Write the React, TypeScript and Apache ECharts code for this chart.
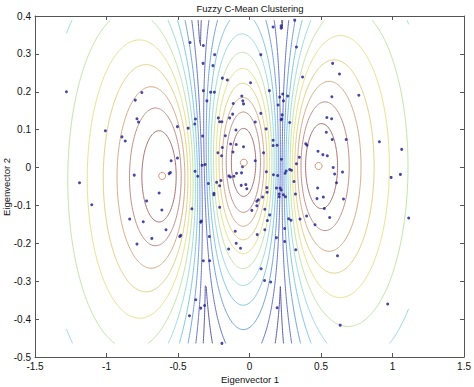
import React, { useEffect, useRef } from "react";
import * as echarts from "echarts";

// Scatter samples (Eigenvector 1, Eigenvector 2)
const dataPoints: [number, number][] = [
  [-1.28, 0.2], [-0.753, 0.198], [-0.799, 0.178], [-0.787, 0.129], [-0.776, 0.12],
  [-1.008, 0.097], [-0.892, 0.081], [-0.869, 0.07], [-0.548, 0.018], [-0.806, -0.02],
  [-0.562, -0.016], [-0.553, -0.013], [-1.189, -0.04], [-0.504, 0.025], [-0.632, -0.067],
  [-0.504, 0.108], [-0.429, 0.104], [-0.72, -0.088], [-1.103, -0.098], [-0.613, -0.112],
  [-0.838, -0.136], [-0.743, -0.143], [-0.584, -0.164], [-0.683, -0.187], [-0.787, -0.202],
  [-0.488, -0.182], [-0.481, -0.179], [-0.403, -0.109], [-0.341, -0.144], [-0.337, -0.141],
  [-0.281, -0.182], [-0.323, -0.246], [-0.279, -0.246], [-0.376, -0.349], [-0.341, -0.371],
  [-0.314, -0.364], [-0.42, -0.391], [-0.193, -0.464], [-0.249, -0.068], [-0.249, -0.072],
  [-0.209, -0.105], [-0.1, -0.168], [-0.093, -0.2], [-0.146, -0.215], [-0.063, -0.213],
  [-0.416, 0.33], [-0.323, 0.322], [-0.244, 0.298], [-0.325, 0.275], [-0.256, 0.269],
  [-0.19, 0.236], [-0.155, 0.231], [0.007, 0.224], [-0.323, 0.203], [-0.272, 0.199],
  [-0.246, 0.199], [-0.054, 0.189], [-0.298, 0.176], [-0.047, 0.176], [-0.042, 0.168],
  [-0.114, 0.169], [-0.118, 0.141], [-0.218, 0.131], [-0.139, 0.131], [-0.209, 0.121],
  [-0.193, 0.121], [0.04, 0.12], [-0.378, 0.128], [-0.383, 0.115], [-0.095, 0.099],
  [-0.169, 0.084], [-0.328, 0.083], [-0.132, 0.062], [-0.093, 0.061], [-0.042, 0.055],
  [-0.19, 0.053], [-0.221, 0.039], [-0.195, 0.031], [-0.116, 0.041], [-0.311, 0.008],
  [-0.332, 0.006], [-0.049, 0.002], [0.04, 0.018], [-0.381, -0.01], [-0.362, -0.023],
  [-0.144, -0.022], [-0.134, -0.025], [-0.091, -0.015], [-0.056, -0.014], [-0.109, -0.023],
  [-0.2, -0.034], [-0.23, -0.039], [-0.288, -0.042], [-0.058, -0.047], [-0.026, -0.045],
  [-0.209, -0.048], [-0.019, -0.056], [0.016, -0.113], [0.051, -0.101], [0.061, -0.085],
  [0.054, -0.177], [0.051, -0.089],
  [0.316, 0.389], [0.221, 0.374], [0.221, 0.368], [0.165, 0.371], [0.328, 0.318],
  [0.079, 0.298], [0.581, 0.275], [0.371, 0.239], [0.139, 0.203], [0.232, 0.194],
  [0.211, 0.186], [0.267, 0.189], [0.576, 0.187], [0.237, 0.176], [0.2, 0.165],
  [0.079, 0.143], [0.228, 0.139], [0.221, 0.126], [0.225, 0.128], [0.541, 0.132],
  [0.574, 0.129], [0.281, 0.119], [0.116, 0.102], [0.537, 0.093], [0.578, 0.074],
  [0.165, 0.072], [0.393, 0.063], [0.402, 0.059], [0.165, 0.058], [0.193, 0.059],
  [0.098, 0.039], [0.479, 0.043], [0.513, 0.034], [0.544, 0.031], [0.348, 0.027],
  [0.223, 0.022], [0.328, 0.01], [0.585, 0.0], [0.281, -0.005], [0.118, -0.011],
  [0.256, -0.009], [0.249, -0.015], [0.293, -0.007], [0.167, -0.019], [0.197, -0.021],
  [0.595, -0.017], [0.65, -0.012], [0.311, -0.037], [0.608, -0.04], [0.476, -0.054],
  [0.121, -0.053], [0.188, -0.054], [0.214, -0.054], [0.221, -0.059], [0.207, -0.07],
  [0.207, -0.077], [0.237, -0.072], [0.251, -0.077], [0.123, -0.065], [0.321, -0.07],
  [0.472, -0.082], [0.516, -0.078], [0.657, -0.083], [0.523, -0.108], [0.56, -0.132],
  [0.399, -0.128], [0.353, -0.136], [0.458, -0.151], [0.091, -0.078], [0.107, -0.11],
  [0.141, -0.125], [0.125, -0.14], [0.274, -0.135], [0.29, -0.139], [0.246, -0.161],
  [0.107, -0.164], [0.188, -0.185], [0.246, -0.195], [0.323, -0.217], [0.615, -0.233],
  [0.081, -0.267], [0.105, -0.298], [0.148, -0.302], [0.193, -0.37], [0.634, -0.416],
  [0.629, 0.247], [0.764, 0.191], [0.676, 0.074], [0.908, 0.068], [1.064, 0.048],
  [0.99, -0.026], [1.055, -0.018], [1.113, -0.133], [0.966, -0.36],
];

// Cluster centres found by fuzzy c-means
const centers: [number, number][] = [
  [-0.611, -0.022],
  [-0.04, 0.013],
  [0.483, 0.004],
];

// Contour levels of the maximum membership value (fuzziness m = 2)
const contourLevels = [0.45, 0.5, 0.55, 0.6, 0.65, 0.7, 0.75, 0.8, 0.85, 0.9, 0.95];
const levelColors = [
  "#5a5aa6", "#6474c8", "#70a0dc", "#7cc6e2", "#9adcd6", "#c0e4a6",
  "#e4e48a", "#e6cf82", "#d6aa84", "#c08c84", "#a86e70",
];

const xAxisMin = -1.5, xAxisMax = 1.5, xAxisStep = 0.5;
const yAxisMin = -0.5, yAxisMax = 0.4, yAxisStep = 0.1;

const fuzziness = 2;

function maxMembership(x: number, y: number): number {
  const d2 = centers.map(([cx, cy]) => (x - cx) * (x - cx) + (y - cy) * (y - cy));
  for (const d of d2) if (d < 1e-14) return 1;
  const p = 1 / (fuzziness - 1);
  const inv = d2.map((d) => Math.pow(1 / d, p));
  const s = inv.reduce((a, b) => a + b, 0);
  return Math.max(...inv) / s;
}

function buildContours() {
  const xsData = dataPoints.map((p) => p[0]);
  const ysData = dataPoints.map((p) => p[1]);
  const x0 = Math.min(...xsData), x1 = Math.max(...xsData);
  const y0 = Math.min(...ysData), y1 = Math.max(...ysData);
  const nx = 361, ny = 201;
  const xs: number[] = [], ys: number[] = [];
  for (let i = 0; i < nx; i++) xs.push(x0 + ((x1 - x0) * i) / (nx - 1));
  for (let j = 0; j < ny; j++) ys.push(y0 + ((y1 - y0) * j) / (ny - 1));
  const Z: number[][] = [];
  for (let j = 0; j < ny; j++) {
    const row: number[] = [];
    for (let i = 0; i < nx; i++) row.push(maxMembership(xs[i], ys[j]));
    Z.push(row);
  }
  const H = ny * (nx - 1);
  const result: { level: number; pts: [number, number][] }[] = [];
  contourLevels.forEach((L, li) => {
    const pts = new Map<number, [number, number]>();
    const adj = new Map<number, number[]>();
    const hId = (i: number, j: number) => j * (nx - 1) + i;
    const vId = (i: number, j: number) => H + j * nx + i;
    const getPt = (id: number): [number, number] => {
      let p = pts.get(id);
      if (p) return p;
      if (id < H) {
        const j = Math.floor(id / (nx - 1)), i = id % (nx - 1);
        const a = Z[j][i], b = Z[j][i + 1];
        const t = (L - a) / (b - a);
        p = [xs[i] + t * (xs[i + 1] - xs[i]), ys[j]];
      } else {
        const k = id - H;
        const j = Math.floor(k / nx), i = k % nx;
        const a = Z[j][i], b = Z[j + 1][i];
        const t = (L - a) / (b - a);
        p = [xs[i], ys[j] + t * (ys[j + 1] - ys[j])];
      }
      pts.set(id, p);
      return p;
    };
    const link = (a: number, b: number) => {
      if (!adj.has(a)) adj.set(a, []);
      if (!adj.has(b)) adj.set(b, []);
      adj.get(a)!.push(b);
      adj.get(b)!.push(a);
    };
    for (let j = 0; j < ny - 1; j++) {
      for (let i = 0; i < nx - 1; i++) {
        const v0 = Z[j][i], v1 = Z[j][i + 1], v2 = Z[j + 1][i + 1], v3 = Z[j + 1][i];
        const b0 = v0 >= L, b1 = v1 >= L, b2 = v2 >= L, b3 = v3 >= L;
        const eB = hId(i, j), eR = vId(i + 1, j), eT = hId(i, j + 1), eL = vId(i, j);
        const crossed: number[] = [];
        if (b0 !== b1) crossed.push(eB);
        if (b1 !== b2) crossed.push(eR);
        if (b2 !== b3) crossed.push(eT);
        if (b3 !== b0) crossed.push(eL);
        if (crossed.length === 2) {
          link(crossed[0], crossed[1]);
        } else if (crossed.length === 4) {
          const c = (v0 + v1 + v2 + v3) / 4 >= L;
          if (b0 === c) {
            link(eB, eR);
            link(eT, eL);
          } else {
            link(eL, eB);
            link(eR, eT);
          }
        }
      }
    }
    const walk = (start: number) => {
      const line: [number, number][] = [getPt(start)];
      let cur = start;
      for (;;) {
        const nb = adj.get(cur);
        if (!nb || nb.length === 0) break;
        const next = nb.pop()!;
        const nbn = adj.get(next)!;
        const k = nbn.indexOf(cur);
        if (k >= 0) nbn.splice(k, 1);
        line.push(getPt(next));
        cur = next;
      }
      return line;
    };
    for (const [id, nb] of adj) if (nb.length === 1) result.push({ level: li, pts: walk(id) });
    for (const [id, nb] of adj) if (nb.length > 0) result.push({ level: li, pts: walk(id) });
  });
  return result;
}

const FONT = "Liberation Sans, Arial, Helvetica, sans-serif";

export default function App() {
  const ref = useRef<HTMLDivElement>(null);
  useEffect(() => {
    if (!ref.current) return;
    const chart = echarts.init(ref.current, null, { renderer: "svg" });
    const contours = buildContours();
    const fmt = (v: number) => String(Math.round(v * 10) / 10);
    const axisLine = { show: true, onZero: false, lineStyle: { color: "#555", width: 1 } };
    const axisTick = { show: true, inside: true, length: 4, lineStyle: { color: "#555" } };
    chart.setOption({
      animation: false,
      backgroundColor: "#ffffff",
      grid: { left: 35, right: 8, top: 16, bottom: 30, containLabel: false },
      xAxis: [
        {
          type: "value", min: xAxisMin, max: xAxisMax, interval: xAxisStep, position: "bottom",
          axisLine, axisTick, splitLine: { show: false },
          axisLabel: { formatter: fmt, fontSize: 10, color: "#111", fontFamily: FONT, margin: 4, showMinLabel: true, showMaxLabel: true },
        },
        {
          type: "value", min: xAxisMin, max: xAxisMax, interval: xAxisStep, position: "top",
          axisLine, axisTick, splitLine: { show: false }, axisLabel: { show: false },
        },
      ],
      yAxis: [
        {
          type: "value", min: yAxisMin, max: yAxisMax, interval: yAxisStep, position: "left",
          axisLine, axisTick, splitLine: { show: false },
          axisLabel: { formatter: fmt, fontSize: 10, color: "#111", fontFamily: FONT, margin: 4, showMinLabel: true, showMaxLabel: true },
        },
        {
          type: "value", min: yAxisMin, max: yAxisMax, interval: yAxisStep, position: "right",
          axisLine, axisTick, splitLine: { show: false }, axisLabel: { show: false },
        },
      ],
      graphic: [
        {
          type: "text", x: 250, y: 8, silent: true,
          style: { text: "Fuzzy C-Mean Clustering", font: `9.5px ${FONT}`, fill: "#111", align: "center", verticalAlign: "middle" },
        },
        {
          type: "text", x: 250, y: 379, silent: true,
          style: { text: "Eigenvector 1", font: `9.5px ${FONT}`, fill: "#111", align: "center", verticalAlign: "middle" },
        },
        {
          type: "text", x: 6, y: 187, rotation: Math.PI / 2, silent: true,
          style: { text: "Eigenvector 2", font: `9.5px ${FONT}`, fill: "#111", align: "center", verticalAlign: "middle" },
        },
      ],
      series: [
        {
          type: "custom",
          silent: true,
          encode: { x: 0, y: 1 },
          data: contours.map((c) => [c.pts[0][0], c.pts[0][1], c.level]),
          renderItem: (params: any, api: any) => {
            const c = contours[params.dataIndex];
            const points = c.pts.map((p) => api.coord(p));
            return {
              type: "polyline",
              shape: { points },
              style: { stroke: levelColors[c.level], lineWidth: 1, fill: null },
              silent: true,
            };
          },
          z: 1,
        },
        {
          type: "scatter",
          data: dataPoints,
          symbol: "circle",
          symbolSize: 3,
          itemStyle: { color: "#1c1c8c" },
          silent: true,
          z: 3,
        },
        {
          type: "scatter",
          data: centers,
          symbol: "circle",
          symbolSize: 7,
          itemStyle: { color: "rgba(0,0,0,0)", borderColor: "#d07a5c", borderWidth: 1 },
          silent: true,
          z: 4,
        },
      ],
    });
    return () => chart.dispose();
  }, []);
  return (
    <div
      ref={ref}
      style={{ position: "absolute", left: 0, top: 0, width: 474, height: 387, background: "#fff" }}
    />
  );
}
